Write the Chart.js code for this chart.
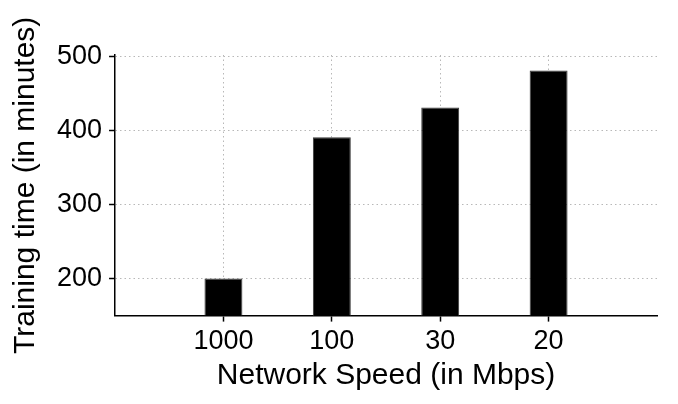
<!DOCTYPE html>
<html>
<head>
<meta charset="utf-8">
<script src="https://cdn.jsdelivr.net/npm/chart.js@4.4.0/dist/chart.umd.min.js"></script>
<style>
html,body{margin:0;padding:0;background:#fff;}
#wrap{width:678px;height:404px;}
</style>
</head>
<body>
<div id="wrap"><canvas id="c" width="678" height="404"></canvas></div>
<script>
const categories = ['1000', '100', '30', '20'];
const trainingMinutes = [200, 391, 431, 481];
const yTicks = [200, 300, 400, 500];
const xTitle = 'Network Speed (in Mbps)';
const yTitle = 'Training time (in minutes)';

const FONT = "'Liberation Sans', Arial, Helvetica, sans-serif";

const points = categories.map((c, i) => ({x: i, y: trainingMinutes[i]}));

new Chart(document.getElementById('c'), {
  type: 'bar',
  data: {
    datasets: [{
      data: points,
      backgroundColor: '#000000',
      borderColor: '#3a3a3a',
      borderWidth: 1,
      barPercentage: 0.35,
      categoryPercentage: 1.0
    }]
  },
  options: {
    responsive: false,
    animation: false,
    devicePixelRatio: 1,
    layout: {padding: {top: 55, right: 21, bottom: 10, left: 8}},
    plugins: {legend: {display: false}, tooltip: {enabled: false}},
    scales: {
      x: {
        type: 'linear',
        min: -1,
        max: 4,
        offset: false,
        afterBuildTicks: (axis) => { axis.ticks = categories.map((c, i) => ({value: i})); },
        ticks: {
          callback: (v) => categories[v] ?? '',
          color: '#000',
          font: {family: FONT, size: 27},
          padding: 4,
          maxRotation: 0,
          autoSkip: false
        },
        grid: {
          offset: false,
          color: '#b8b8b8',
          lineWidth: 1,
          drawTicks: true,
          tickLength: 6,
          tickColor: '#000',
          tickWidth: 1.5,
          tickBorderDash: []
        },
        border: {display: true, color: '#000', width: 1.5, dash: [1.5, 3]},
        title: {
          display: true,
          text: xTitle,
          color: '#000',
          font: {family: FONT, size: 30},
          padding: {top: -4, bottom: 0}
        }
      },
      y: {
        min: 150,
        max: 502,
        afterBuildTicks: (axis) => { axis.ticks = yTicks.map(v => ({value: v})); },
        ticks: {
          color: '#000',
          font: {family: FONT, size: 27},
          padding: 7
        },
        grid: {
          color: '#b8b8b8',
          lineWidth: 1,
          drawTicks: true,
          tickLength: 6,
          tickColor: '#000',
          tickWidth: 1.5,
          tickBorderDash: []
        },
        border: {display: true, color: '#000', width: 1.5, dash: [1.5, 3]},
        title: {
          display: true,
          text: yTitle,
          color: '#000',
          font: {family: FONT, size: 30},
          padding: {top: 0, bottom: 6}
        }
      }
    }
  }
});
</script>
</body>
</html>
